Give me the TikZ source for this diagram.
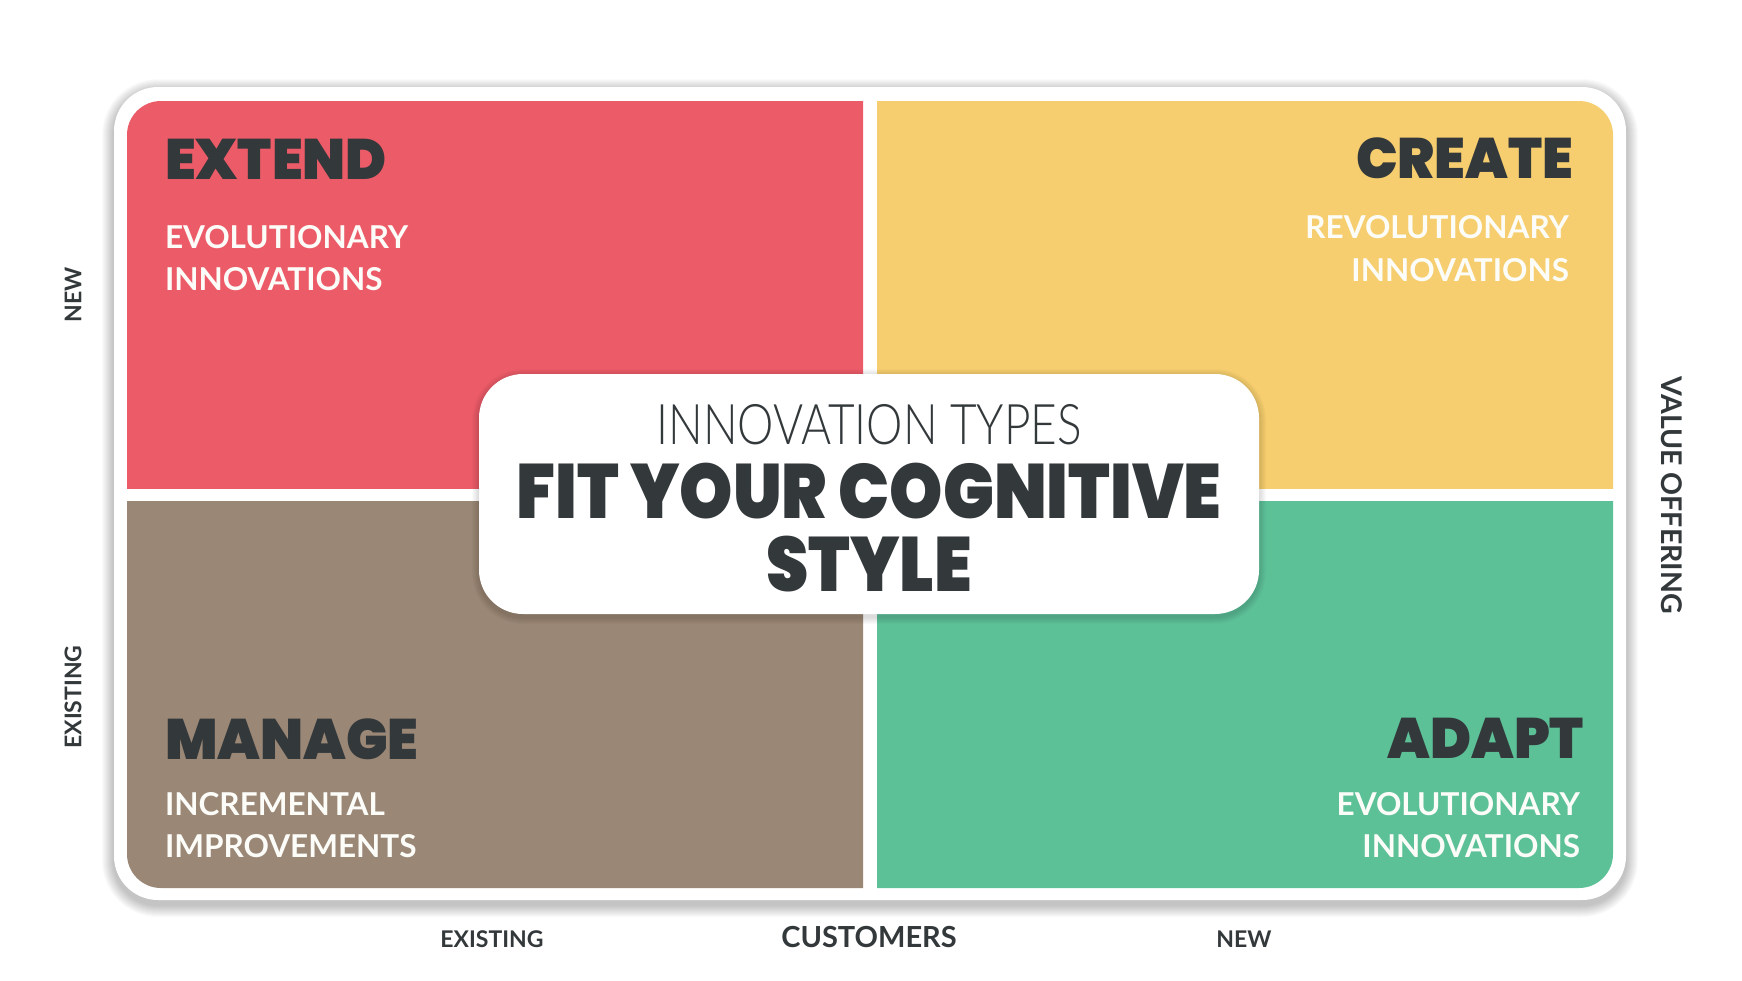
\documentclass[tikz,border=0pt]{standalone}
\usepackage{fontspec}
\setmainfont{Lato}
\newfontfamily\heavyfont{Poppins Black}[FakeStretch=0.97]
\newfontfamily\titlefont{Poppins Black}[FakeStretch=0.88]
\newfontfamily\thinfont{Lato Light}[FakeStretch=0.82]
\usetikzlibrary{positioning}

\definecolor{extendred}{HTML}{EC5B68}
\definecolor{createyellow}{HTML}{F6CE6F}
\definecolor{managebrown}{HTML}{9A8776}
\definecolor{adaptgreen}{HTML}{5DC198}
\definecolor{inkdark}{HTML}{33383B}
\definecolor{softwhite}{HTML}{FCFCF8}

\begin{document}
\begin{tikzpicture}[x=1pt,y=1pt]
    \tikzstyle{every node}=[inner sep=0,outer sep=0]
    \tikzstyle{heading}=[text=inkdark,font=\heavyfont\fontsize{57}{60}\selectfont]
    \tikzstyle{subline}=[text=softwhite,font=\bfseries\fontsize{31.5}{34}\selectfont]
    \tikzstyle{axislabel}=[text=inkdark,font=\bfseries\fontsize{23}{25}\selectfont]
    \tikzstyle{haze}=[fill=black,fill opacity=0.018]
    \useasboundingbox (0,0) rectangle (1742,-980);
    \fill[white] (0,0) rectangle (1742,-980);

    % outer frame with soft shadow
    \foreach \s in {1,...,12} {
        \fill[haze,rounded corners=44+\s] (114-\s,-91+\s) rectangle (1626+\s,-905-\s);
    }
    \fill[white,rounded corners=44] (114,-87) rectangle (1626,-900);

    % four quadrants, clipped from one rounded panel
    \foreach \col/\xa/\ya/\xb/\yb in {extendred/127/-101/863/-488,
                                      createyellow/877/-101/1613/-488,
                                      managebrown/127/-501/863/-888,
                                      adaptgreen/877/-501/1613/-888} {
        \begin{scope}
            \clip (\xa,\ya) rectangle (\xb,\yb);
            \fill[\col,rounded corners=34] (127,-101) rectangle (1613,-888);
        \end{scope}
    }

    % quadrant texts
    \node[heading,anchor=base west] (extend) at (165,-179) {EXTEND};
    \node[subline,anchor=base west] (extend1) at (165,-248) {EVOLUTIONARY};
    \node[subline,anchor=base west] (extend2) at (165,-290) {INNOVATIONS};

    \node[heading,anchor=base east] (create) at (1573,-178) {CREATE};
    \node[subline,anchor=base east] (create1) at (1569,-238) {REVOLUTIONARY};
    \node[subline,anchor=base east] (create2) at (1569,-281) {INNOVATIONS};

    \node[heading,anchor=base west] (manage) at (165,-759) {MANAGE};
    \node[subline,anchor=base west] (manage1) at (165,-815) {INCREMENTAL};
    \node[subline,anchor=base west] (manage2) at (165,-857) {IMPROVEMENTS};

    \node[heading,anchor=base east] (adapt) at (1584,-758) {ADAPT};
    \node[subline,anchor=base east] (adapt1) at (1580,-815) {EVOLUTIONARY};
    \node[subline,anchor=base east] (adapt2) at (1580,-857) {INNOVATIONS};

    % centre card
    \foreach \s in {1,...,7} {
        \fill[haze,rounded corners=44+\s] (479-\s,-376+\s) rectangle (1259+\s,-617-\s);
    }
    \fill[white,rounded corners=44] (479,-374) rectangle (1259,-614);
    \node[text=inkdark,font=\thinfont\fontsize{56}{58}\selectfont,anchor=base] (types) at (869,-444) {INNOVATION TYPES};
    \node[text=inkdark,font=\titlefont\fontsize{77}{80}\selectfont,anchor=base] (fit) at (869,-518) {FIT YOUR COGNITIVE};
    \node[text=inkdark,font=\titlefont\fontsize{77}{80}\selectfont,anchor=base] (style) at (869,-591) {STYLE};

    % axes
    \node[axislabel,rotate=90] (vnew) at (73,-295) {NEW};
    \node[axislabel,rotate=90] (vexisting) at (73,-697) {EXISTING};
    \node[axislabel,font=\bfseries\fontsize{28.5}{31}\selectfont,rotate=-90] (value) at (1672,-495) {VALUE OFFERING};
    \node[axislabel,anchor=base] (hexisting) at (492,-947) {EXISTING};
    \node[axislabel,font=\bfseries\fontsize{29}{32}\selectfont,anchor=base] (customers) at (869,-947) {CUSTOMERS};
    \node[axislabel,anchor=base] (hnew) at (1244,-947) {NEW};
\end{tikzpicture}
\end{document}
